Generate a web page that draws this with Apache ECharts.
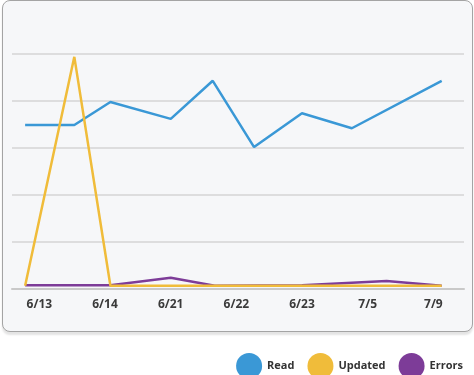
<!DOCTYPE html>
<html>
<head>
<meta charset="UTF-8">
<title>Read / Updated / Errors</title>
<script src="https://cdn.jsdelivr.net/npm/echarts@6/dist/echarts.min.js"></script>
<style>
  html, body { margin: 0; padding: 0; background: #fff; }
  #card {
    position: absolute; left: 2px; top: 0px; width: 471px; height: 332px;
    box-sizing: border-box; border: 1.5px solid #a4a4a4; border-radius: 8px;
    background: #f6f7f9; box-shadow: 0 3px 2px #e4e4e4;
  }
  #main { position: absolute; left: 0; top: 0; width: 474px; height: 375px; }
</style>
</head>
<body>
<div id="card"></div>
<div id="main"></div>
<script>
// tick labels (evenly spaced, index 0..6)
var dateLabels = ['6/13', '6/14', '6/21', '6/22', '6/23', '7/5', '7/9'];

// x positions are measured in label-index units
var readX   = [-0.22, 0.53, 1.08, 2.0, 2.64, 3.27, 4.0, 4.76, 6.13];
var readY   = [349, 349, 398, 362, 443, 302, 374, 342, 443];

var updatedX = [-0.22, 0.53, 1.08, 6.13];
var updatedY = [7, 494, 7, 7];

var errorsX = [-0.22, 1.08, 2.0, 2.67, 4.0, 5.29, 6.13];
var errorsY = [8, 8, 24, 7, 8, 17, 7];

function pairs(xs, ys) {
    var out = [];
    for (var i = 0; i < xs.length; i++) {
        out.push([xs[i], ys[i]]);
    }
    return out;
}

var font = '"Open Sans", "Noto Sans", sans-serif';
var chart = echarts.init(document.getElementById('main'));

var option = {
    backgroundColor: 'transparent',
    animation: false,
    textStyle: { fontFamily: font },
    legend: {
        data: ['Read', 'Updated', 'Errors'],
        right: 6,
        top: 348,
        icon: 'circle',
        itemWidth: 26,
        itemHeight: 26,
        itemGap: 13,
        textStyle: { fontFamily: font, fontSize: 11, fontWeight: 'bold', color: '#333' }
    },
    grid: [
        { left: 12, right: 10, top: 54, bottom: 86 },
        { left: 6.5, right: 7.8, top: 54, bottom: 86 }
    ],
    xAxis: [{
        type: 'value',
        gridIndex: 0,
        min: -0.42,
        max: 6.47,
        axisLine: { show: true, lineStyle: { color: '#c9c9c9', width: 2 } },
        axisTick: { show: false },
        axisLabel: { show: false },
        splitLine: { show: false }
    }, {
        type: 'category',
        gridIndex: 1,
        data: dateLabels,
        boundaryGap: true,
        axisLine: { show: false },
        axisTick: { show: false },
        axisLabel: { margin: 10, fontSize: 12, fontWeight: 'bold', color: '#3a3a3a', fontFamily: font }
    }],
    yAxis: [{
        type: 'value',
        gridIndex: 0,
        min: 0,
        max: 500,
        interval: 100,
        axisLine: { show: false },
        axisTick: { show: false },
        axisLabel: { show: false },
        splitLine: { lineStyle: { color: '#d4d4d4', width: 1.5 } }
    }, {
        type: 'value',
        gridIndex: 1,
        show: false
    }],
    series: [{
        name: 'Read',
        type: 'line',
        xAxisIndex: 0, yAxisIndex: 0,
        data: pairs(readX, readY),
        showSymbol: false,
        symbol: 'none',
        color: '#3a98d6',
        lineStyle: { width: 2.5, color: '#3a98d6' }
    }, {
        name: 'Errors',
        type: 'line',
        xAxisIndex: 0, yAxisIndex: 0,
        data: pairs(errorsX, errorsY),
        showSymbol: false,
        symbol: 'none',
        color: '#7d3c98',
        lineStyle: { width: 2.5, color: '#7d3c98' }
    }, {
        name: 'Updated',
        type: 'line',
        xAxisIndex: 0, yAxisIndex: 0,
        data: pairs(updatedX, updatedY),
        showSymbol: false,
        symbol: 'none',
        color: '#f0bc3a',
        lineStyle: { width: 2.5, color: '#f0bc3a' }
    }]
};
chart.setOption(option);
</script>
</body>
</html>
